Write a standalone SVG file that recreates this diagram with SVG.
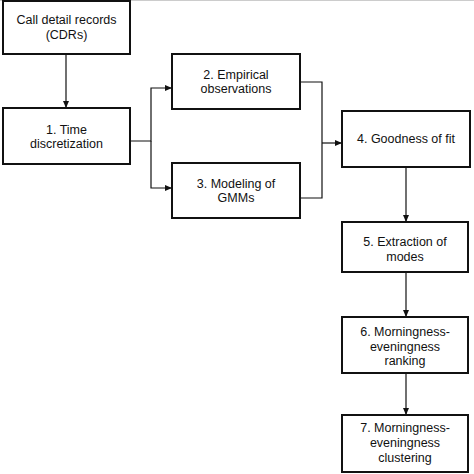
<svg xmlns="http://www.w3.org/2000/svg" width="474" height="474" viewBox="0 0 474 474">
<defs>
<marker id="ah" markerWidth="7" markerHeight="6" refX="7" refY="3" orient="auto" markerUnits="userSpaceOnUse">
<path d="M0,0 L7,3 L0,6 Z" fill="#111"/>
</marker>
<style>
.box{fill:#fff;stroke:#111;stroke-width:2}
.t{font-family:"Liberation Sans",Arial,sans-serif;font-size:12.5px;fill:#111;text-anchor:middle}
.c{fill:none;stroke:#111;stroke-width:1.2}
</style>
</defs>
<rect x="0" y="0" width="474" height="474" fill="#fff"/>
<rect x="0" y="0" width="474" height="1" fill="#ccc"/>
<g id="connectors">
<path class="c" d="M66,54 V108" marker-end="url(#ah)"/>
<path class="c" d="M130,141 H151 V88 H172" marker-end="url(#ah)"/>
<path class="c" d="M151,141 V188 H172" marker-end="url(#ah)"/>
<path class="c" d="M300,82 H322 V198 H300"/>
<path class="c" d="M322,143 H342" marker-end="url(#ah)"/>
<path class="c" d="M406,167 V222" marker-end="url(#ah)"/>
<path class="c" d="M406,272 V317" marker-end="url(#ah)"/>
<path class="c" d="M406,373 V415" marker-end="url(#ah)"/>
</g>
<g id="cdr">
<rect class="box" x="3" y="1" width="127" height="53"/>
<text class="t" x="66.5" y="24">Call detail records</text>
<text class="t" x="66.5" y="39">(CDRs)</text>
</g>
<g id="n1">
<rect class="box" x="3" y="108" width="127" height="56"/>
<text class="t" x="66.5" y="134">1. Time</text>
<text class="t" x="66.5" y="148">discretization</text>
</g>
<g id="n2">
<rect class="box" x="172" y="54" width="128" height="55"/>
<text class="t" x="236" y="79">2. Empirical</text>
<text class="t" x="236" y="93">observations</text>
</g>
<g id="n3">
<rect class="box" x="172" y="163" width="128" height="55"/>
<text class="t" x="236" y="188">3. Modeling of</text>
<text class="t" x="236" y="202">GMMs</text>
</g>
<g id="n4">
<rect class="box" x="342" y="111" width="128" height="56"/>
<text class="t" x="406" y="143">4. Goodness of fit</text>
</g>
<g id="n5">
<rect class="box" x="342" y="222" width="126" height="50"/>
<text class="t" x="405" y="246">5. Extraction of</text>
<text class="t" x="405" y="261">modes</text>
</g>
<g id="n6">
<rect class="box" x="342" y="317" width="126" height="56"/>
<text class="t" x="405" y="336">6. Morningness-</text>
<text class="t" x="405" y="351">eveningness</text>
<text class="t" x="405" y="365">ranking</text>
</g>
<g id="n7">
<rect class="box" x="342" y="415" width="126" height="57"/>
<text class="t" x="405" y="432">7. Morningness-</text>
<text class="t" x="405" y="447">eveningness</text>
<text class="t" x="405" y="462">clustering</text>
</g>
</svg>
